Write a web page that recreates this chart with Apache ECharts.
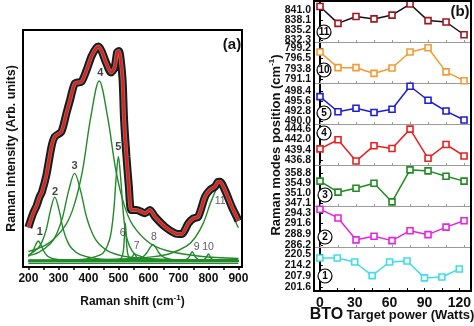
<!DOCTYPE html>
<html><head><meta charset="utf-8">
<script src="https://cdn.jsdelivr.net/npm/echarts@6/dist/echarts.min.js"></script>
<style>html,body{margin:0;padding:0;background:#fff}#c{width:474px;height:326px}</style>
</head><body><div id="c"></div>
<script>
// ---------- Panel (a): Raman spectrum ----------
const spectrum = [[200,16.7],[215,22.4],[227,25.7],[237,29.5],[245,31.6],[260,38.8],[277,50.8],[288,55.0],[310,57.1],[327,65.0],[339,70.5],[355,77.5],[377,78.2],[394,83.1],[410,88.8],[426,92.4],[434,93.0],[444,91.1],[460,85.9],[475,82.1],[487,84.0],[496,90.7],[502,91.1],[507,88.2],[514,78.9],[519,62.0],[527,46.4],[535,33.8],[543,24.1],[560,24.1],[589,22.7],[605,24.1],[622,21.2],[655,17.0],[689,14.2],[711,13.9],[733,18.4],[750,20.5],[766,21.2],[789,29.7],[805,32.5],[822,33.9],[832,35.9],[839,36.0],[855,32.5],[878,25.4],[894,21.2],[900,19.5]];
const peak1 = [[200,4.45],[215,6.75],[224,9.3],[233,11.0],[242,9.3],[251,6.75],[260,5.1],[269,4.2],[287,3.35],[323,2.83],[413,2.6],[600,2.52],[900,2.5]];
const peak2 = [[200,4.98],[232,7.9],[246,10.8],[260,16.0],[274,24.1],[288,29.5],[302,24.1],[316,16.0],[330,10.8],[344,7.9],[372,5.2],[428,3.54],[568,2.77],[900,2.56]];
const peak3 = [[200,4.84],[234,6.2],[274,9.9],[294,13.9],[314,21.0],[334,32.1],[354,39.5],[374,32.1],[394,21.0],[414,13.9],[434,9.9],[474,6.2],[554,3.92],[754,2.87],[900,2.7]];
const peak4 = [[200,6.56],[268,10.1],[324,17.7],[352,25.9],[380,40.5],[408,63.3],[436,78.5],[464,63.3],[492,40.5],[520,25.9],[548,17.7],[604,10.1],[660,6.97],[772,4.55],[900,3.59]];
const peak5 = [[200,2.61],[380,3.18],[440,5.09],[455,6.9],[470,11.3],[477.5,16.0],[485,24.5],[492.5,37.7],[500,46.5],[507.5,37.7],[515,24.5],[522.5,16.0],[530,11.3],[545,6.9],[560,5.09],[620,3.18],[900,2.56]];
const peak6 = [[200,2.5],[483,2.66],[503,3.12],[511,4.1],[515,5.7],[517,7.4],[519,10.5],[521,15.3],[523,18.5],[525,15.3],[527,10.5],[529,7.4],[531,5.7],[535,4.1],[543,3.12],[563,2.66],[900,2.5]];
const peak7 = [[200,2.5],[473,2.53],[513,2.62],[529,2.8],[537,3.1],[545,4.0],[549,4.9],[553,5.5],[557,4.9],[561,4.0],[569,3.1],[577,2.8],[593,2.62],[633,2.53],[900,2.5]];
const peak8 = [[200,2.52],[415,2.57],[515,2.77],[555,3.2],[575,3.9],[585,4.65],[595,6.0],[605,8.1],[615,9.5],[625,8.1],[635,6.0],[645,4.65],[655,3.9],[675,3.2],[715,2.77],[815,2.57],[900,2.54]];
const peak9 = [[200,2.5],[656,2.54],[701,2.65],[719,2.9],[728,3.3],[737,4.5],[741.5,5.7],[746,6.5],[750.5,5.7],[755,4.5],[764,3.3],[773,2.9],[791,2.65],[836,2.54],[900,2.52]];
const peak10 = [[200,2.5],[730,2.53],[765,2.62],[779,2.8],[786,3.1],[793,4.0],[796.5,4.9],[800,5.5],[803.5,4.9],[807,4.0],[814,3.1],[821,2.8],[835,2.62],[870,2.53],[900,2.51]];
const peak11 = [[200,2.74],[398,2.99],[508,3.36],[618,4.38],[673,5.7],[728,8.9],[755.5,12.35],[783,18.5],[810.5,28.1],[838,34.5],[865.5,28.1],[893,18.5],[900,16.6]];
const baseA = [[200,3.0],[900,3.1]];
const baseB = [[200,1.6],[900,1.6]];
const peakLabels = [['1',238,14.9],['2',289,31.8],['3',354,42.6],['4',440,81.7],['5',500,50.8],['6',514,14.3],['7',561,8.9],['8',618,12.8],['9',761,8.3],['10',799,8.6],['11',839,27.6]];
const shiftTicks = [200,250,300,350,400,450,500,550,600,650,700,750,800,850,900];
const shiftLabels = [200,300,400,500,600,700,800,900];

// ---------- Panel (b): mode positions ----------
const powers = [0,15,30,45,60,75,90,105,120];
const powerTicks = [0,15,30,45,60,75,90,105,120];
const powerLabels = [0,30,60,90,120];
const mode11 = [842.0,837.1,839.1,838.4,839.5,842.7,837.9,837.5,833.8];
const mode10 = [798.2,794.1,794.1,792.6,794.0,798.2,799.3,793.0,790.7];
const mode5  = [496.8,492.6,493.6,492.4,493.3,499.7,495.8,492.8,490.3];
const mode4  = [439.6,441.9,436.5,440.4,439.7,444.6,437.2,440.7,437.8];
const mode3  = [355.6,351.3,352.8,354.8,347.5,360.0,359.6,357.5,355.6];
const mode2  = [295.2,293.0,287.5,288.4,287.3,289.8,288.8,290.7,292.3];
const mode1  = [218.2,218.2,215.9,208.1,215.9,216.5,206.8,207.3,211.9];
const ticks11 = [832.3,835.2,838.1,841.0];
const ticks10 = [791.1,793.8,796.5,799.2];
const ticks5  = [490.0,492.8,495.6,498.4];
const ticks4  = [436.8,439.4,442.0,444.6];
const ticks3  = [347.1,351.0,354.9,358.8];
const ticks2  = [286.2,288.9,291.6,294.3];
const ticks1  = [201.6,207.9,214.2,220.5];
const modeNames = ['11','10','5','4','3','2','1'];

// ---------- layout / style ----------
const FONT = 'Liberation Sans, Arial, sans-serif';
const panels = [
  {vals: mode11, ticks: ticks11, min: 831.7, max: 843.3, top: 2,   h: 40, color: '#a3161c', line: '#111'},
  {vals: mode10, ticks: ticks10, min: 790.1, max: 800.8, top: 42,  h: 41, color: '#f39a33', line: '#f39a33'},
  {vals: mode5,  ticks: ticks5,  min: 489.2, max: 500.6, top: 83,  h: 41, color: '#1d1fd0', line: '#1d1fd0'},
  {vals: mode4,  ticks: ticks4,  min: 435.5, max: 445.9, top: 124, h: 41, color: '#e8201f', line: '#e8201f'},
  {vals: mode3,  ticks: ticks3,  min: 345.9, max: 361.9, top: 165, h: 41, color: '#208a22', line: '#208a22'},
  {vals: mode2,  ticks: ticks2,  min: 285.7, max: 296.0, top: 206, h: 41, color: '#e424e0', line: '#e424e0'},
  {vals: mode1,  ticks: ticks1,  min: 199.3, max: 224.5, top: 247, h: 44, color: '#3fdde6', line: '#3fdde6'}
];
const circlePos = [[324,32],[324,70],[324,113],[324,133],[325,195],[325,237],[325,276]];

const grids = [{left: 23, top: 30, width: 219, height: 237, show: true, borderColor: '#000', borderWidth: 2}];
const xAxes = [{
  type: 'value', gridIndex: 0, min: 182, max: 912,
  axisLine: {lineStyle: {color: '#000', width: 2}},
  axisTick: {show: true, inside: false, length: 3, customValues: shiftTicks, lineStyle: {color: '#000', width: 1.5}},
  axisLabel: {customValues: shiftLabels, color: '#111', fontFamily: FONT, fontWeight: 'bold', fontSize: 12, margin: 6,
    showMinLabel: true, showMaxLabel: true},
  splitLine: {show: false},
  name: 'Raman shift (cm{sup|-1})', nameLocation: 'middle', nameGap: 27,
  nameTextStyle: {color: '#111', fontFamily: FONT, fontWeight: 'bold', fontSize: 12,
    rich: {sup: {fontSize: 8, fontWeight: 'bold', fontFamily: FONT, color: '#111', verticalAlign: 'top', padding: [0,0,8,0]}}}
}];
const yAxes = [{
  type: 'value', gridIndex: 0, min: 0, max: 100,
  axisLine: {lineStyle: {color: '#000', width: 2}},
  axisTick: {show: false}, axisLabel: {show: false}, splitLine: {show: false},
  name: 'Raman intensity (Arb. units)', nameLocation: 'middle', nameGap: 5,
  nameTextStyle: {color: '#111', fontFamily: FONT, fontWeight: 'bold', fontSize: 12.5}
}];
const series = [];
const greenStyle = {color: '#23892a', width: 1.4};
series.push({type: 'line', xAxisIndex: 0, yAxisIndex: 0, data: spectrum, smooth: 0.25, symbol: 'none',
  lineStyle: {color: '#1a1a1a', width: 8}, z: 3});
series.push({type: 'line', xAxisIndex: 0, yAxisIndex: 0, data: spectrum, smooth: 0.25, symbol: 'none',
  lineStyle: {color: '#7a7a7a', width: 4}, z: 3});
[baseA, baseB, peak1, peak2, peak3, peak4, peak5, peak6, peak7, peak8, peak9, peak10, peak11].forEach(p => {
  series.push({type: 'line', xAxisIndex: 0, yAxisIndex: 0, data: p, smooth: 0.35, symbol: 'none',
    lineStyle: greenStyle, z: 2});
});
series.push({type: 'line', xAxisIndex: 0, yAxisIndex: 0, data: spectrum, smooth: 0.25, symbol: 'none',
  lineStyle: {color: '#f01a14', width: 2.4}, z: 4});
series.push({type: 'scatter', xAxisIndex: 0, yAxisIndex: 0, symbolSize: 0, z: 5,
  data: peakLabels.map((l, i) => ({value: [l[1], l[2]], name: l[0],
    label: {show: true, position: 'inside', formatter: l[0], fontFamily: FONT,
      fontWeight: i < 5 ? 'bold' : 'normal', fontSize: i < 5 ? 11 : 10.5, color: i < 5 ? '#111' : '#333'}}))});

const yLabelStyle = {formatter: v => v.toFixed(1), color: '#111', fontFamily: FONT,
  fontWeight: 'bold', fontSize: 10.5, margin: 3, showMinLabel: true, showMaxLabel: true};

panels.forEach((p, k) => {
  const gi = k + 1;
  const last = k === panels.length - 1;
  grids.push({left: 314, width: 157, top: p.top, height: p.h});
  xAxes.push({
    type: 'value', gridIndex: gi, min: -5, max: 125.8,
    axisLine: {lineStyle: {color: last ? '#000' : '#9a9a9a', width: last ? 2 : 1}},
    axisTick: {show: true, inside: true, length: last ? 3 : 2, customValues: powerTicks,
      lineStyle: {color: last ? '#000' : '#9a9a9a'}},
    axisLabel: {show: last, customValues: powerLabels, color: '#111', fontFamily: FONT, fontWeight: 'bold', fontSize: 14, margin: 5,
      showMinLabel: true, showMaxLabel: true},
    splitLine: {show: false}
  });
  const yIndex = yAxes.length;
  // main axis: line, all ticks, labels 1st & 3rd
  yAxes.push({
    type: 'value', gridIndex: gi, min: p.min, max: p.max,
    axisLine: {lineStyle: {color: '#000', width: 2}},
    axisTick: {show: true, inside: true, length: 3, customValues: p.ticks, lineStyle: {color: '#000'}},
    axisLabel: Object.assign({customValues: [p.ticks[0], p.ticks[2]]}, yLabelStyle),
    splitLine: {show: false}
  });
  // companion axis on the same side: labels 2nd & 4th (avoids label-overlap hiding)
  yAxes.push({
    type: 'value', gridIndex: gi, min: p.min, max: p.max, position: 'left', offset: 0,
    axisLine: {show: false}, axisTick: {show: false},
    axisLabel: Object.assign({customValues: [p.ticks[1], p.ticks[3]]}, yLabelStyle),
    splitLine: {show: false}
  });
  series.push({type: 'line', xAxisIndex: gi, yAxisIndex: yIndex,
    data: powers.map((x, j) => [x, p.vals[j]]),
    symbol: 'rect', symbolSize: 6,
    itemStyle: {color: '#fff', borderColor: p.color, borderWidth: 1.6},
    lineStyle: {color: p.line, width: 1.5}, z: 3});
});

const graphic = [
  {type: 'rect', shape: {x: 314, y: 1, width: 157, height: 290}, style: {fill: 'none', stroke: '#000', lineWidth: 2}, z: 10},
  {type: 'text', x: 232, y: 45, style: {text: '(a)', font: 'bold 15px ' + FONT, fill: '#111', align: 'center', verticalAlign: 'middle'}, z: 10},
  {type: 'text', x: 460, y: 12, style: {text: '(b)', font: 'bold 15px ' + FONT, fill: '#111', align: 'center', verticalAlign: 'middle'}, z: 10},
  {type: 'text', x: 276, y: 145, rotation: Math.PI / 2,
    style: {text: 'Raman modes position (cm{sup|-1})', font: 'bold 13px ' + FONT, fill: '#111', align: 'center', verticalAlign: 'middle',
      rich: {sup: {font: 'bold 8px ' + FONT, fill: '#111', verticalAlign: 'top', padding: [0,0,8,0]}}}, z: 10},
  {type: 'text', x: 392, y: 315,
    style: {text: '{a|BTO} {b|Target power (Watts)}', align: 'center', verticalAlign: 'middle',
      rich: {a: {font: 'bold 16px ' + FONT, fill: '#111'}, b: {font: 'bold 13px ' + FONT, fill: '#111'}}}, z: 10}
];
circlePos.forEach((c, k) => {
  graphic.push({type: 'circle', shape: {cx: c[0], cy: c[1], r: 7}, style: {fill: '#fff', stroke: '#000', lineWidth: 1.2}, z: 10});
  graphic.push({type: 'text', x: c[0], y: c[1] + 0.5, style: {text: modeNames[k], font: 'bold 10px ' + FONT, fill: '#000', align: 'center', verticalAlign: 'middle'}, z: 11});
});

const chart = echarts.init(document.getElementById('c'), null, {renderer: 'canvas'});
chart.setOption({
  animation: false,
  backgroundColor: '#fff',
  grid: grids, xAxis: xAxes, yAxis: yAxes, series: series, graphic: graphic
});
</script></body></html>
